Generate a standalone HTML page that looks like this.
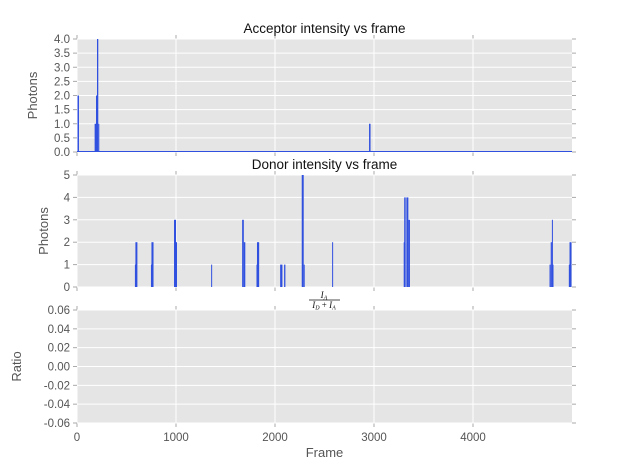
<!DOCTYPE html>
<html><head><meta charset="utf-8"><style>
body{margin:0;background:#fff;}
svg{display:block;font-family:"Liberation Sans","DejaVu Sans",sans-serif;}
</style></head><body>
<svg id="chart" width="619" height="468" xmlns="http://www.w3.org/2000/svg"></svg>
<script>
// Acceptor spikes
const accStart=[5,178,192,202,215,2950];
const accEnd=[20,192,202,215,225,2965];
const accVals=[2,1,2,4,1,1];
// Donor spikes
const donStart=[585,590,747,752,980,1000,1355,1668,1685,1813,1818,2052,2092,2270,2290,2577,3300,3305,3327,3347,4773,4785,4797,4803,4968,4975];
const donEnd=[590,610,752,773,1000,1005,1360,1685,1700,1818,1840,2075,2105,2290,2295,2587,3305,3320,3347,3363,4785,4797,4803,4813,4975,4995];
const donVals=[1,2,1,2,3,2,1,3,2,1,2,1,1,5,1,2,2,4,4,3,1,2,3,1,1,2];
const xTicks=[0,1000,2000,3000,4000];
const accTicks=[0,0.5,1,1.5,2,2.5,3,3.5,4];
const donTicks=[0,1,2,3,4,5];
const ratioTicks=[-0.06,-0.04,-0.02,0,0.02,0.04,0.06];

const svg=document.getElementById('chart');
const NS='http://www.w3.org/2000/svg';
const X0=77,X1=572,XMAX=5000;
const xs=v=>X0+(v/XMAX)*(X1-X0);
function mk(tag,attrs,parent){const e=document.createElementNS(NS,tag);for(const k in attrs)e.setAttribute(k,attrs[k]);(parent||svg).appendChild(e);return e;}

function panel(name,top,bot,ymin,ymax,ticks,fmt,ylabel,labelX,title){
  const g=mk('g',{});
  
  
  const ys=v=>bot-(v-ymin)/(ymax-ymin)*(bot-top);
  const bg=mk('rect',{x:X0,y:top,width:X1-X0,height:bot-top,fill:'#e5e5e5'},g);
  
  
  xTicks.forEach(t=>{
    mk('line',{x1:xs(t),x2:xs(t),y1:top,y2:bot,stroke:'#fff','stroke-width':1},g);
    mk('line',{x1:xs(t),x2:xs(t),y1:bot,y2:bot+4,stroke:'#aaa'},g);
    mk('line',{x1:xs(t),x2:xs(t),y1:top,y2:top-4,stroke:'#aaa'},g);
  });
  ticks.forEach(t=>{
    const y=ys(t);
    mk('line',{x1:X0,x2:X1,y1:y,y2:y,stroke:'#fff','stroke-width':1},g);
    mk('line',{x1:X0-4,x2:X0,y1:y,y2:y,stroke:'#aaa'},g);
    mk('line',{x1:X1,x2:X1+4,y1:y,y2:y,stroke:'#aaa'},g);
    const tx=mk('text',{x:X0-7,y:y+4,'text-anchor':'end','font-size':11.5,fill:'#555'},g);
    tx.textContent=fmt(t);
    
    
  });
  const yl=mk('text',{x:0,y:0,'text-anchor':'middle','font-size':13,fill:'#555',transform:`translate(${labelX},${(top+bot)/2}) rotate(-90)`},g);
  yl.textContent=ylabel;
  
  
  if(title){
    const tt=mk('text',{x:(X0+X1)/2,y:top-6,'text-anchor':'middle','font-size':13.5,fill:'#111'},g);
    tt.textContent=title;
    
    
  }
  return {g,ys};
}
function bars(p,starts,ends,vals,name,baseline){
  for(let i=0;i<vals.length;i++){
    const x1=xs(starts[i]),x2=Math.max(xs(ends[i]),x1+1);
    const r=mk('rect',{x:x1,y:p.ys(vals[i]),width:x2-x1,height:p.ys(0)-p.ys(vals[i]),fill:'#3050e0'},p.g);
    
    
  }
  if(baseline) mk('line',{x1:X0,x2:X1,y1:p.ys(0)-0.5,y2:p.ys(0)-0.5,stroke:'#3050e0','stroke-width':1},p.g);
}
const p1=panel('acceptor-panel',39,152,0,4,accTicks,t=>t.toFixed(1),'Photons',37,'Acceptor intensity vs frame');
bars(p1,accStart,accEnd,accVals,'acceptor-spike',true);
const p2=panel('donor-panel',175,287,0,5,donTicks,t=>String(t),'Photons',48,'Donor intensity vs frame');
bars(p2,donStart,donEnd,donVals,'donor-spike',false);
const p3=panel('ratio-panel',310,423,-0.06,0.06,ratioTicks,t=>t.toFixed(2),'Ratio',21,null);
xTicks.forEach(t=>{
  const tx=mk('text',{x:xs(t),y:441,'text-anchor':'middle','font-size':11.5,fill:'#555'});
  tx.textContent=String(t);
  
  
});
const xl=mk('text',{x:(X0+X1)/2,y:457,'text-anchor':'middle','font-size':13,fill:'#555'});
xl.textContent='Frame';


// ratio title fraction
const ft=mk('g',{'font-family':'"Liberation Serif",serif','font-style':'italic','font-size':9,fill:'#111'});


const n=mk('text',{x:324,y:298,'text-anchor':'middle'},ft);
n.innerHTML='I<tspan font-size="6" dy="1.5">A</tspan>';
mk('line',{x1:309,x2:340,y1:300,y2:300,stroke:'#111','stroke-width':0.8},ft);
const d=mk('text',{x:324,y:308,'text-anchor':'middle'},ft);
d.innerHTML='I<tspan font-size="6" dy="1.5">D</tspan><tspan dy="-1.5" font-style="normal"> + </tspan>I<tspan font-size="6" dy="1.5">A</tspan>';
</script>
</body></html>
